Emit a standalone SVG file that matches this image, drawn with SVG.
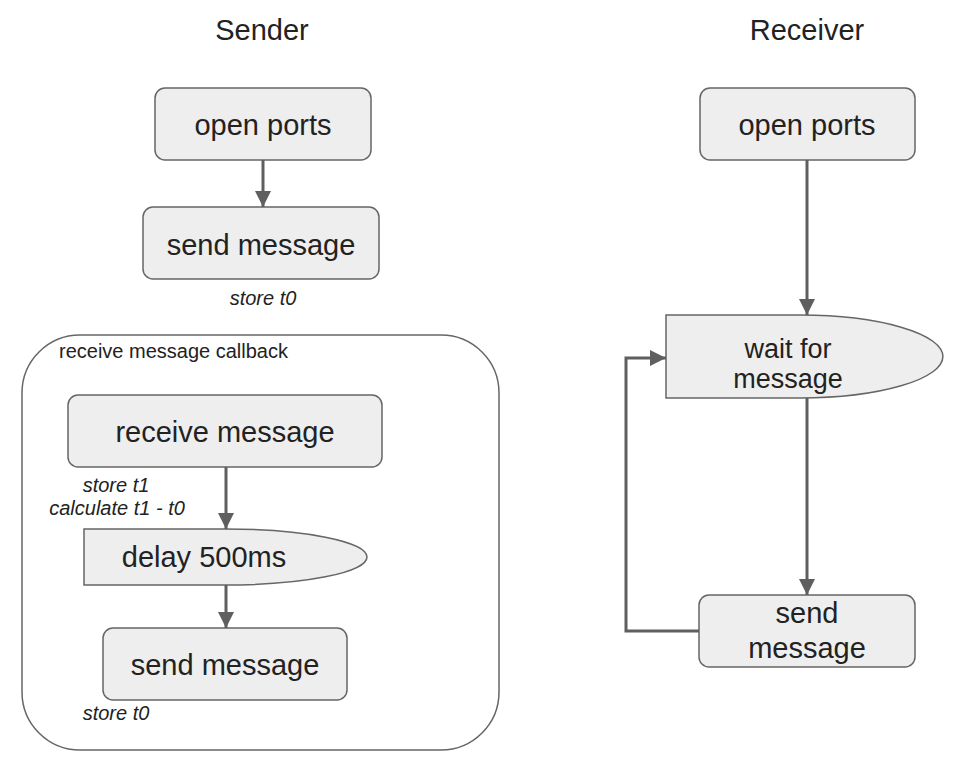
<svg xmlns="http://www.w3.org/2000/svg" width="953" height="770" viewBox="0 0 953 770">
<style>
.bg{fill:#ffffff}
.box{fill:#eeeeee;stroke:#666666;stroke-width:1.5}
.frame{fill:none;stroke:#666666;stroke-width:1.5}
.t{font-family:"Liberation Sans",Arial,sans-serif;font-size:29px;fill:#222222;text-anchor:middle}
.w{font-family:"Liberation Sans",Arial,sans-serif;font-size:27px;fill:#222222;text-anchor:middle}
.s{font-family:"Liberation Sans",Arial,sans-serif;font-size:20px;fill:#222222}
.i{font-family:"Liberation Sans",Arial,sans-serif;font-size:20px;font-style:italic;fill:#222222;text-anchor:middle}
.c{fill:none;stroke:#5f5f5f;stroke-width:3}
</style>
<defs>
<marker id="ah" viewBox="0 0 10 10" refX="10" refY="5" markerWidth="16" markerHeight="16" markerUnits="userSpaceOnUse" orient="auto">
<path d="M0,0 L10,5 L0,10 z" fill="#5f5f5f"/>
</marker>
</defs>
<rect class="bg" x="0" y="0" width="953" height="770"/>

<text class="t" x="262" y="40">Sender</text>
<text class="t" x="807" y="40">Receiver</text>

<g id="callback-frame">
<rect class="frame" x="22" y="335" width="477" height="415" rx="58" ry="58"/>
<text class="s" x="59" y="358">receive message callback</text>
</g>

<g id="s-open">
<rect class="box" x="155" y="88" width="216" height="72" rx="10"/>
<text class="t" x="263" y="135">open ports</text>
</g>
<g id="s-send">
<rect class="box" x="143" y="207" width="236" height="72" rx="10"/>
<text class="t" x="261" y="255">send message</text>
<text class="i" x="263" y="305">store t0</text>
</g>
<g id="s-recv">
<rect class="box" x="68" y="395" width="314" height="72" rx="10"/>
<text class="t" x="225" y="442">receive message</text>
<text class="i" x="116" y="492">store t1</text>
<text class="i" x="117" y="515">calculate t1 - t0</text>
</g>
<g id="s-delay">
<path class="box" d="M84,529 H225 A142,28 0 0 1 225,585 H84 Z"/>
<text class="t" x="204" y="567">delay 500ms</text>
</g>
<g id="s-send2">
<rect class="box" x="103" y="628" width="244" height="72" rx="10"/>
<text class="t" x="225" y="675">send message</text>
<text class="i" x="116" y="720">store t0</text>
</g>

<g id="r-open">
<rect class="box" x="700" y="88" width="215" height="72" rx="10"/>
<text class="t" x="807" y="135">open ports</text>
</g>
<g id="r-wait">
<path class="box" d="M666,315 H800 A143,41.5 0 0 1 800,398 H666 Z"/>
<text class="w" x="788" y="358">wait for</text>
<text class="w" x="788" y="388">message</text>
</g>
<g id="r-send">
<rect class="box" x="699" y="595" width="216" height="72" rx="10"/>
<text class="t" x="807" y="623">send</text>
<text class="t" x="807" y="658">message</text>
</g>

<g id="connectors">
<line class="c" x1="263" y1="160" x2="263" y2="207" marker-end="url(#ah)"/>
<line class="c" x1="226" y1="467" x2="226" y2="529" marker-end="url(#ah)"/>
<line class="c" x1="226" y1="585" x2="226" y2="628" marker-end="url(#ah)"/>
<line class="c" x1="807" y1="160" x2="807" y2="315" marker-end="url(#ah)"/>
<line class="c" x1="807" y1="398" x2="807" y2="595" marker-end="url(#ah)"/>
<polyline class="c" points="699,631 626,631 626,358 666,358" marker-end="url(#ah)"/>
</g>
</svg>
